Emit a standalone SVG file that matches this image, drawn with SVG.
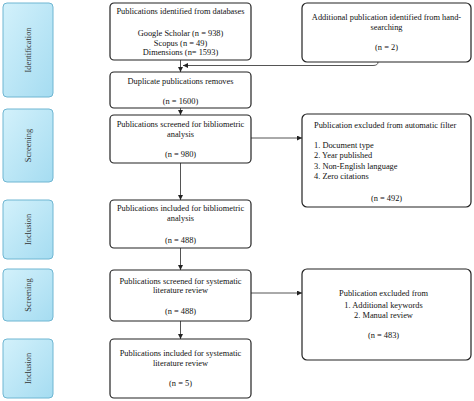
<svg xmlns="http://www.w3.org/2000/svg" width="474" height="401" viewBox="0 0 474 401">
<defs>
<linearGradient id="blue" x1="0" y1="0" x2="1" y2="1">
<stop offset="0" stop-color="#d3f1fb"/>
<stop offset="1" stop-color="#a5dcf1"/>
</linearGradient>
<marker id="ah" viewBox="0 0 6 6" refX="6" refY="3" markerWidth="5" markerHeight="5" orient="auto" markerUnits="userSpaceOnUse">
<path d="M0,0 L6,3 L0,6 z" fill="#222"/>
</marker>
<style>
.stage{fill:url(#blue);stroke:#6fb6d2;stroke-width:1}
.box{fill:#fff;stroke:#222;stroke-width:1.2}
.t{font-family:"Liberation Serif","Times New Roman",serif;font-size:8.4px;fill:#111}
.c{text-anchor:middle}
.lab{font-family:"Liberation Serif","Times New Roman",serif;font-size:8.4px;fill:#333;text-anchor:middle}
.conn{fill:none;stroke:#555;stroke-width:1}
</style>
</defs>
<rect width="474" height="401" fill="#fff"/>

<g id="stage-identification"><rect class="stage" x="3" y="3" width="50" height="94" rx="4"/><text class="lab" transform="translate(31,50) rotate(-90)">Identification</text></g>
<g id="stage-screening1"><rect class="stage" x="3" y="109" width="50" height="73" rx="4"/><text class="lab" transform="translate(31,145.5) rotate(-90)">Screening</text></g>
<g id="stage-inclusion1"><rect class="stage" x="3" y="200" width="50" height="59" rx="4"/><text class="lab" transform="translate(31,229.5) rotate(-90)">Inclusion</text></g>
<g id="stage-screening2"><rect class="stage" x="3" y="269" width="50" height="52" rx="4"/><text class="lab" transform="translate(31,295) rotate(-90)">Screening</text></g>
<g id="stage-inclusion2"><rect class="stage" x="3" y="339" width="50" height="59" rx="4"/><text class="lab" transform="translate(31,368.5) rotate(-90)">Inclusion</text></g>

<g id="connectors">
<line class="conn" x1="180.5" y1="60" x2="180.5" y2="72" marker-end="url(#ah)"/>
<path class="conn" d="M378,62 Q378,65.5 373,65.5 L183,65.5" marker-end="url(#ah)"/>
<line class="conn" x1="180.5" y1="108" x2="180.5" y2="115" marker-end="url(#ah)"/>
<line class="conn" x1="180.5" y1="163" x2="180.5" y2="200" marker-end="url(#ah)"/>
<line class="conn" x1="180.5" y1="248" x2="180.5" y2="270" marker-end="url(#ah)"/>
<line class="conn" x1="180.5" y1="321" x2="180.5" y2="339" marker-end="url(#ah)"/>
<line class="conn" x1="251" y1="138" x2="302" y2="138" marker-end="url(#ah)"/>
<line class="conn" x1="251" y1="293" x2="302" y2="293" marker-end="url(#ah)"/>
</g>

<g id="identified"><rect class="box" x="110" y="3" width="141" height="57" rx="4"/>
<text class="t c" x="180.5" y="14">Publications identified from databases</text>
<text class="t c" x="180.5" y="35.5">Google Scholar (n = 938)</text>
<text class="t c" x="180.5" y="45.5">Scopus (n = 49)</text>
<text class="t c" x="180.5" y="55">Dimensions (n= 1593)</text></g>

<g id="additional"><rect class="box" x="302" y="3" width="169" height="59" rx="5"/>
<text class="t c" x="386.5" y="19.5">Additional publication identified from hand-</text>
<text class="t c" x="386.5" y="29.5">searching</text>
<text class="t c" x="386.5" y="50">(n = 2)</text></g>

<g id="duplicates"><rect class="box" x="110" y="72" width="141" height="36" rx="4"/>
<text class="t c" x="180.5" y="84">Duplicate publications removes</text>
<text class="t c" x="180.5" y="104">(n = 1600)</text></g>

<g id="screened-biblio"><rect class="box" x="110" y="115" width="141" height="48" rx="4"/>
<text class="t c" x="180.5" y="127">Publications screened for bibliometric</text>
<text class="t c" x="180.5" y="136.5">analysis</text>
<text class="t c" x="180.5" y="156.5">(n = 980)</text></g>

<g id="excluded-auto"><rect class="box" x="302" y="114" width="169" height="93" rx="5"/>
<text class="t" x="314" y="128">Publication excluded from automatic filter</text>
<text class="t" x="314" y="148">1. Document type</text>
<text class="t" x="314" y="158">2. Year published</text>
<text class="t" x="314" y="168.5">3. Non-English language</text>
<text class="t" x="314" y="178.5">4. Zero citations</text>
<text class="t c" x="386.5" y="201">(n = 492)</text></g>

<g id="included-biblio"><rect class="box" x="110" y="200" width="141" height="48" rx="4"/>
<text class="t c" x="180.5" y="211">Publications included for bibliometric</text>
<text class="t c" x="180.5" y="221">analysis</text>
<text class="t c" x="180.5" y="243">(n = 488)</text></g>

<g id="screened-slr"><rect class="box" x="110" y="270" width="141" height="51" rx="4"/>
<text class="t c" x="180.5" y="284">Publications screened for systematic</text>
<text class="t c" x="180.5" y="293">literature review</text>
<text class="t c" x="180.5" y="314">(n = 488)</text></g>

<g id="excluded-manual"><rect class="box" x="302" y="269" width="169" height="91" rx="5"/>
<text class="t c" x="383.5" y="296">Publication excluded from</text>
<text class="t c" x="383.5" y="308">1. Additional keywords</text>
<text class="t c" x="383.5" y="317.5">2. Manual review</text>
<text class="t c" x="383.5" y="337.5">(n = 483)</text></g>

<g id="included-slr"><rect class="box" x="110" y="339" width="141" height="59" rx="4"/>
<text class="t c" x="180.5" y="356">Publications included for systematic</text>
<text class="t c" x="180.5" y="366">literature review</text>
<text class="t c" x="180.5" y="386">(n = 5)</text></g>
</svg>
